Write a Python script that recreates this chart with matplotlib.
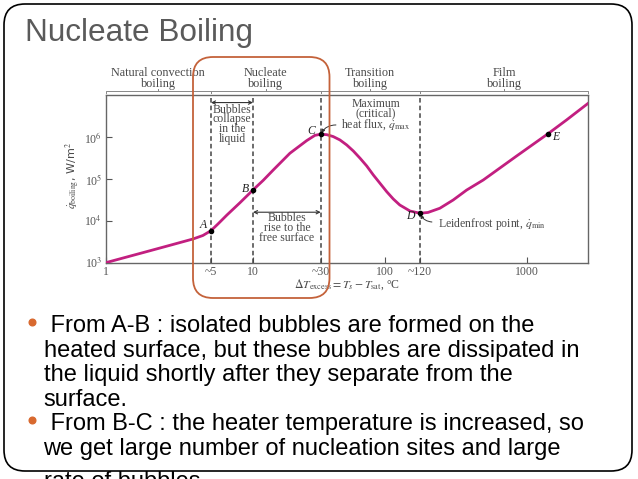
import numpy as np
import matplotlib
matplotlib.use("Agg")
import matplotlib.pyplot as plt
from matplotlib.patches import FancyBboxPatch
from matplotlib.ticker import NullLocator

plt.rcParams['mathtext.fontset'] = 'stix'

# boiling curve: excess temperature (C) and heat flux (W/m2)
dT = [1, 1.78, 2.67, 3.8, 4.42, 5, 5.61, 6.5, 8.07, 10, 11.8, 13.9, 18.2, 23.9,
      27.3, 30, 33.7, 37.9, 43, 48.8, 55.2, 62.7, 71, 80.3, 100.9, 104.4, 108,
      113.9, 120, 140.7, 178, 232, 303, 422, 820, 1470, 2046, 3000]
q = [1e3, 1.75e3, 2.6e3, 3.68e3, 4.46e3, 5.81e3, 8.39e3, 1.37e4, 2.7e4, 5.43e4,
     9.2e4, 1.63e5, 4.08e5, 8.17e5, 1.09e6, 1.16e6, 1.13e6, 1.02e6, 8.47e5,
     6.44e5, 4.63e5, 3.1e5, 2.03e5, 1.24e5, 4.94e4, 3.31e4, 2.38e4, 1.71e4,
     1.51e4, 1.58e4, 1.99e4, 3.13e4, 5.4e4, 9.4e4, 3.52e5, 1.2e6, 2.55e6, 6.3e6]

point_names = ['A', 'B', 'C', 'D', 'E']
point_dT = [5, 10, 30, 120, 1470]
point_q = [5.81e3, 5.43e4, 1.16e6, 1.51e4, 1.2e6]
point_offsets = [(-8, 6), (-8, 1), (-9, 3), (-10, -3), (8, -3)]

regime_edges = [1, 5, 30, 120, 3000]
regime_names = ['Natural convection\nboiling', 'Nucleate\nboiling',
                'Transition\nboiling', 'Film\nboiling']
dashed_dT = [5, 10, 30, 120]

xtick_vals = [1, 5, 10, 30, 100, 120, 1000]
xtick_labels = ['1', '~5', '10', '~30', '100', '~120', '1000']
ytick_vals = [1e3, 1e4, 1e5, 1e6]
ytick_labels = ['10$^3$', '10$^4$', '10$^5$', '10$^6$']

title = 'Nucleate Boiling'
body_lines = [' From A-B : isolated bubbles are formed on the',
              'heated surface, but these bubbles are dissipated in',
              'the liquid shortly after they separate from the',
              'surface.',
              ' From B-C : the heater temperature is increased, so',
              'we get large number of nucleation sites and large',
              'rate of bubbles']
bullet_rows = [0, 4]

# the textbook axis is only roughly logarithmic: stretch between the labelled temps
scale_logs = np.log10([1, 5, 10, 30, 100, 120, 1000, 3000])
scale_pos = np.array([0, .2183, .3054, .4458, .5791, .6517, .8729, 1.0])


def fwd(x):
    return np.interp(np.log10(np.clip(x, 1e-6, None)), scale_logs, scale_pos)


def inv(p):
    return 10 ** np.interp(p, scale_pos, scale_logs)


def mid(a, b):
    return inv((fwd(a) + fwd(b)) / 2)


W, H = 638, 479
fig = plt.figure(figsize=(W / 100, H / 100), dpi=100)
serif = 'Liberation Serif'
gray = '#4a4a4a'

ax = fig.add_axes([105.7 / W, 1 - 262.7 / H, 482.3 / W, 167.7 / H])
ax.set_xscale('function', functions=(fwd, inv))
ax.set_yscale('log')
ax.set_xlim(1, 3000)
ax.set_ylim(1e3, 1e7)

ax.plot(dT, q, color='#c21f80', lw=2, solid_joinstyle='round', zorder=3)
ax.plot(point_dT, point_q, 'o', color='black', ms=3, zorder=4)
for name, x, y, off in zip(point_names, point_dT, point_q, point_offsets):
    ax.annotate(name, (x, y), xytext=off, textcoords='offset pixels',
                ha='center', va='center', fontsize=8.5, style='italic',
                family=serif, color='#222')

for x in dashed_dT:
    ax.axvline(x, color='#444', lw=1.1, ls=(0, (3, 2)), zorder=2)

ax.set_xticks(xtick_vals, xtick_labels)
ax.set_yticks(ytick_vals, ytick_labels)
ax.xaxis.set_minor_locator(NullLocator())
ax.yaxis.set_minor_locator(NullLocator())
ax.tick_params(direction='in', length=4, width=0.8, color='#555',
               labelsize=8.5, labelcolor='#555', pad=2.5)
for lab in ax.get_xticklabels() + ax.get_yticklabels():
    lab.set_family(serif)
for s in ax.spines.values():
    s.set_color('#666')
    s.set_linewidth(1)

# regime names with their brackets above the frame
trans = ax.get_xaxis_transform()
for name, a, b in zip(regime_names, regime_edges[:-1], regime_edges[1:]):
    m = mid(a, b)
    ax.text(m, 1.10, name, transform=trans, ha='center', va='center',
            fontsize=8.8, family=serif, color=gray, linespacing=0.92)
    ax.plot([a, a, m, m, m, b, b], [1.013, 1.024, 1.024, 1.034, 1.024, 1.024, 1.013],
            transform=trans, color='#888', lw=0.7, clip_on=False)

# bubble notes between the dashed lines
arrow = dict(arrowstyle='<->', color='#333', lw=0.8, shrinkA=0, shrinkB=0,
             mutation_scale=6)
ax.annotate('', xy=(10, 6.6e6), xytext=(5, 6.6e6), arrowprops=arrow)
ax.text(mid(5, 10), 2.0e6, 'Bubbles\ncollapse\nin the\nliquid', ha='center',
        va='center', fontsize=8.5, family=serif, color=gray, linespacing=0.76)
ax.annotate('', xy=(30, 1.6e4), xytext=(10, 1.6e4), arrowprops=arrow)
ax.text(mid(10, 30), 6.6e3, 'Bubbles\nrise to the\nfree surface', ha='center',
        va='center', fontsize=8.5, family=serif, color=gray, linespacing=0.78)

ax.text(84.5, 3.35e6, 'Maximum\n(critical)\nheat flux, $\\dot{q}_{\\max}$',
        ha='center', va='center', fontsize=8.5, family=serif, color=gray,
        linespacing=0.8)
ax.annotate('', xy=(30, 1.16e6), xytext=(39.9, 1.93e6),
            arrowprops=dict(arrowstyle='-|>', color='#333', lw=0.7,
                            mutation_scale=5, shrinkA=0, shrinkB=1,
                            connectionstyle='arc3,rad=0.3'))
ax.text(171, 8.4e3, 'Leidenfrost point, $\\dot{q}_{\\min}$', ha='left',
        va='center', fontsize=8.5, family=serif, color=gray)
ax.annotate('', xy=(120, 1.51e4), xytext=(152, 9.35e3),
            arrowprops=dict(arrowstyle='-|>', color='#333', lw=0.7,
                            mutation_scale=5, shrinkA=0, shrinkB=1,
                            connectionstyle='arc3,rad=-0.3'))

ax.text(-0.068, 0.52, '$\\dot{q}_{\\mathrm{boiling}}$, W/m$^2$', transform=ax.transAxes,
        rotation=90, ha='center', va='center', fontsize=8, color=gray)
ax.text(0.5, -0.133, '$\\Delta T_{\\mathrm{excess}} = T_s - T_{\\mathrm{sat}}$, °C',
        transform=ax.transAxes, ha='center', va='center', fontsize=8.5,
        family=serif, color=gray)

# slide layer in pixel units
ov = fig.add_axes([0, 0, 1, 1], zorder=10)
ov.set_xlim(0, W)
ov.set_ylim(H, 0)
ov.axis('off')

ov.add_patch(FancyBboxPatch((4, 4), 628, 467, boxstyle='round,pad=0,rounding_size=21',
                            fill=False, ec='black', lw=1.2))
ov.add_patch(FancyBboxPatch((193, 57), 136.5, 241, boxstyle='round,pad=0,rounding_size=20',
                            fill=False, ec='#c4623a', lw=1.3))
ov.text(25, 41, title, fontsize=22.7, family='Liberation Sans', color='#5a5a5a',
        va='baseline')

for i, line in enumerate(body_lines):
    base = 332.3 + i * 24.45
    if i == len(body_lines) - 1:
        base += 9  # last line sits under the frame, only its top shows
    ov.text(43.5, base, line, fontsize=17, family='Liberation Sans',
            color='black', va='baseline')
    if i in bullet_rows:
        ov.plot(31.5, base - 10.5, 'o', color='#d8692f', ms=4.8)

fig.savefig('out.png', dpi=100)
